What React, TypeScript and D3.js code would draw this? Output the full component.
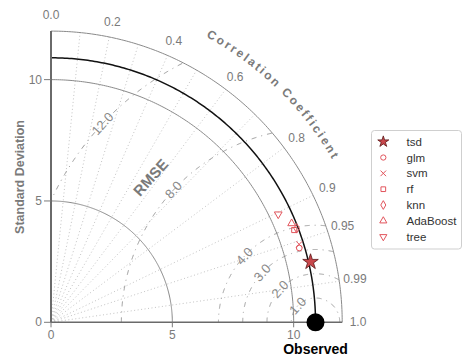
import React from "react";
import * as d3 from "d3";

// ---- data ----
const stdTicks = [0, 5, 10];
const stdArcs = [5, 10];
const stdMax = 12;
const refStd = 10.9;
const corLines = [0.1, 0.2, 0.3, 0.4, 0.5, 0.6, 0.7, 0.8, 0.9, 0.95, 0.99];
const corLabels = [0.0, 0.2, 0.4, 0.6, 0.8, 0.9, 0.95, 0.99, 1.0];
const corLabelText = ["0.0", "0.2", "0.4", "0.6", "0.8", "0.9", "0.95", "0.99", "1.0"];
const rmsTicks = [1, 2, 3, 4, 8, 12];
const models = ["tsd", "glm", "svm", "rf", "knn", "AdaBoost", "tree"];
const modelStd = [10.98, 10.68, 10.72, 10.72, 10.84, 10.72, 10.37];
const modelCor = [0.974, 0.958, 0.954, 0.935, 0.934, 0.925, 0.903];

const W = 474, H = 364;
const cx = 51, cy = 322.3;
const r = d3.scaleLinear().domain([0, stdMax]).range([0, 291.2]);

const pt = (s: number, th: number): [number, number] => [cx + r(s) * Math.cos(th), cy - r(s) * Math.sin(th)];
const line = d3.line<[number, number]>();

const GRAY = "#7a7a7a";
const FONT = "'Liberation Sans', Arial, sans-serif";
const RED = "#e2545c";

function stdArcPath(s: number) {
  const pts = d3.range(0, 90.01, 0.5).map((a) => pt(s, (a * Math.PI) / 180));
  return line(pts) as string;
}

function rmsArcPath(rm: number) {
  const pts: [number, number][] = [];
  d3.range(0, 180.01, 0.25).forEach((a) => {
    const t = (a * Math.PI) / 180;
    const x = refStd + rm * Math.cos(t);
    const y = rm * Math.sin(t);
    if (Math.sqrt(x * x + y * y) <= stdMax && x >= 0) {
      pts.push([cx + r(x), cy - r(y)]);
    }
  });
  return line(pts) as string;
}

function symbolFor(i: number, size: number) {
  const types = [d3.symbolStar, d3.symbolCircle, d3.symbolTimes, d3.symbolSquare, d3.symbolDiamond, d3.symbolTriangle, d3.symbolTriangle];
  return d3.symbol().type(types[i]).size(size)() as string;
}

function Marker({ i, x, y, big }: { i: number; x: number; y: number; big: boolean }) {
  if (i === 0) {
    return (
      <path d={symbolFor(0, big ? 75 : 38)} transform={`translate(${x},${y})`} fill="#c8474b" stroke="#5a1515" strokeWidth={0.8} />
    );
  }
  const rot = i === 6 ? 180 : 0;
  const size = big ? 26 : 22;
  return (
    <path d={symbolFor(i, size)} transform={`translate(${x},${y}) rotate(${rot})`} fill="none" stroke={RED} strokeWidth={1} />
  );
}

export default function App() {
  const Rtxt = 325;
  const a0 = (61.5 * Math.PI) / 180, a1 = (26 * Math.PI) / 180;
  const p0 = [cx + Rtxt * Math.cos(a0), cy - Rtxt * Math.sin(a0)];
  const p1 = [cx + Rtxt * Math.cos(a1), cy - Rtxt * Math.sin(a1)];
  const corrPath = `M${p0[0]},${p0[1]} A${Rtxt},${Rtxt} 0 0 1 ${p1[0]},${p1[1]}`;

  const rmsAng = (137 * Math.PI) / 180;
  const obs = pt(refStd, 0);

  return (
    <svg width={W} height={H} style={{ position: "absolute", left: 0, top: 0, background: "#fff" }} fontFamily={FONT}>
      {/* correlation dotted lines */}
      {corLines.map((c) => {
        const th = Math.acos(c);
        const [x2, y2] = pt(stdMax, th);
        return <line key={"cl" + c} x1={cx} y1={cy} x2={x2} y2={y2} stroke="#c4c4c4" strokeWidth={1} strokeDasharray="1,2.5" />;
      })}
      {/* RMSE arcs */}
      {rmsTicks.map((rm) => (
        <path key={"rm" + rm} d={rmsArcPath(rm)} fill="none" stroke="#9a9a9a" strokeWidth={1} strokeDasharray="5,5,1,5" />
      ))}
      {/* std arcs */}
      {stdArcs.map((s) => (
        <path key={"sa" + s} d={stdArcPath(s)} fill="none" stroke="#8a8a8a" strokeWidth={1} />
      ))}
      <path d={stdArcPath(stdMax)} fill="none" stroke="#8a8a8a" strokeWidth={1} />
      {/* reference arc */}
      <path d={stdArcPath(refStd)} fill="none" stroke="#111" strokeWidth={1.5} />
      {/* axes */}
      <line x1={cx} y1={cy - r(stdMax)} x2={cx} y2={cy} stroke="#6a6a6a" strokeWidth={2} />
      <line x1={cx} y1={cy} x2={cx + r(stdMax)} y2={cy} stroke="#6a6a6a" strokeWidth={1.5} />
      {stdTicks.map((s) => (
        <g key={"t" + s}>
          <line x1={cx - 7} y1={cy - r(s)} x2={cx} y2={cy - r(s)} stroke="#7a7a7a" strokeWidth={1} />
          <text x={cx - 9} y={cy - r(s)} textAnchor="end" dominantBaseline="central" fontSize={12} fill={GRAY}>{s}</text>
          <line x1={cx + r(s)} y1={cy} x2={cx + r(s)} y2={cy + 5} stroke="#7a7a7a" strokeWidth={1} />
          <text x={cx + r(s)} y={cy + 13} textAnchor="middle" dominantBaseline="central" fontSize={12} fill={GRAY}>{s}</text>
        </g>
      ))}
      {/* correlation labels */}
      {corLabels.map((c, i) => {
        const [x, y] = pt(12.65, Math.acos(c));
        return (
          <text key={"cb" + c} x={x} y={y} textAnchor="middle" dominantBaseline="central" fontSize={12} fill={GRAY}>{corLabelText[i]}</text>
        );
      })}
      <defs>
        <path id="corrArc" d={corrPath} />
      </defs>
      <text fontSize={12} fontWeight="bold" fill={GRAY} letterSpacing={2.2}>
        <textPath href="#corrArc" startOffset={0}>Correlation Coefficient</textPath>
      </text>
      {/* RMSE labels */}
      {rmsTicks.map((rm) => {
        const x = obs[0] + r(rm) * Math.cos(rmsAng);
        const y = obs[1] - r(rm) * Math.sin(rmsAng);
        return (
          <text key={"rl" + rm} x={x} y={y} textAnchor="middle" dominantBaseline="central" fontSize={13} fill="#8a8a8a" transform={`rotate(-48,${x},${y})`}>
            {rm.toFixed(1)}
          </text>
        );
      })}
      {(() => {
        const ang = (138.7 * Math.PI) / 180;
        const x = obs[0] + r(9.05) * Math.cos(ang);
        const y = obs[1] - r(9.05) * Math.sin(ang);
        return (
          <text x={x} y={y} textAnchor="middle" dominantBaseline="central" fontSize={15} fontWeight="bold" fill={GRAY} transform={`rotate(-48,${x},${y})`}>RMSE</text>
        );
      })()}
      {/* axis title */}
      <text x={20} y={177} transform="rotate(-90,20,177)" textAnchor="middle" dominantBaseline="central" fontSize={12.5} fontWeight="bold" fill={GRAY}>Standard Deviation</text>
      {/* models */}
      {models.map((m, i) => {
        const [x, y] = pt(modelStd[i], Math.acos(modelCor[i]));
        return <Marker key={"m" + m} i={i} x={x} y={y} big={true} />;
      }).reverse()}
      {/* observed */}
      <circle cx={obs[0]} cy={obs[1]} r={9} fill="#000" />
      <text x={obs[0]} y={obs[1] + 27} textAnchor="middle" dominantBaseline="central" fontSize={14} fontWeight="bold" fill="#000">Observed</text>
      {/* legend */}
      <rect x={371.5} y={130.5} width={90} height={118.5} rx={3} fill="#fff" stroke="#cfcfcf" strokeWidth={1} />
      {models.map((m, i) => {
        const y = 141.7 + i * 15.83;
        return (
          <g key={"lg" + m}>
            <Marker i={i} x={383.3} y={y} big={false} />
            <text x={406.5} y={y} dominantBaseline="central" fontSize={11.5} fill="#333">{m}</text>
          </g>
        );
      })}
    </svg>
  );
}
